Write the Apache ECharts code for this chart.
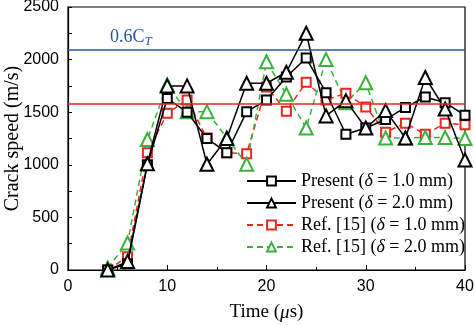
<!DOCTYPE html>
<html>
<head>
<meta charset="utf-8">
<script src="https://cdn.jsdelivr.net/npm/echarts@6/dist/echarts.min.js"></script>
<style>html,body{margin:0;padding:0;background:#fff}#c{width:474px;height:326px}</style>
</head>
<body>
<div id="c"></div>
<script>
const times = [4,6,8,10,12,14,16,18,20,22,24,26,28,30,32,34,36,38,40];
const present1 = [0,60,1000,1630,1500,1250,1115,1505,1615,1835,2015,1685,1290,1350,1430,1545,1645,1590,1470];
const present2 = [0,80,1010,1750,1750,1005,1250,1775,1775,1880,2250,1465,1610,1350,1515,1255,1830,1530,1045];
const ref1 = [0,125,1115,1490,1616,1255,1115,1105,1740,1510,1785,1616,1680,1550,1310,1395,1290,1395,1380];
const ref2 = [20,257,1240,1760,1505,1505,1255,1005,1980,1670,1350,2000,1590,1780,1255,1255,1260,1260,1250];
const ctLine = 2090;   // 0.6 C_T
const redLine = 1580;
const seriesNames = ['Present (δ = 1.0 mm)','Present (δ = 2.0 mm)','Ref. [15] (δ = 1.0 mm)','Ref. [15] (δ = 2.0 mm)'];
const xTicks = [0,10,20,30,40];
const yTicks = [0,500,1000,1500,2000,2500];

const pair = arr => times.map((t,i)=>[t, arr[i]]);
const serif = 'Liberation Serif';

function mk(name, data, color, symbol, size, dashed, z){
  return {
    name, type:'line', data: pair(data), symbol, symbolSize: size,
    showAllSymbol: true, z,
    lineStyle:{color, width:1.5, type: dashed ? [6,4] : 'solid'},
    itemStyle:{color, borderColor: color, borderWidth:1.2}
  };
}

const chart = echarts.init(document.getElementById('c'));
chart.setOption({
  animation:false,
  backgroundColor:'#fff',
  grid:{left:68, right:9, top:7, bottom:56, containLabel:false, outerBoundsMode:'none',
        show:true, borderColor:'#000', borderWidth:1.2, backgroundColor:'transparent'},
  legend:{
    orient:'vertical', left:241, top:167, itemWidth:49, itemHeight:11, itemGap:4,
    data: seriesNames,
    formatter: n => {
      const m = n.match(/^(.*)\(δ = (.*)\)$/);
      return '{n|' + m[1] + '(}{i|δ}{n| = ' + m[2] + ')}';
    },
    textStyle:{fontFamily:serif, fontSize:18, color:'#000',
      rich:{n:{fontFamily:serif, fontSize:18, color:'#000'}, i:{fontFamily:serif, fontStyle:'italic', fontSize:18, color:'#000'}}}
  },
  xAxis:{
    type:'value', min:xTicks[0], max:xTicks[xTicks.length-1], interval:10,
    name:'Time ({i|μ}s)', nameLocation:'middle', nameGap:33, nameMoveOverlap:false,
    nameTextStyle:{fontFamily:serif, fontSize:19, color:'#000',
      rich:{i:{fontFamily:serif, fontStyle:'italic', fontSize:19, color:'#000'}}},
    axisLine:{show:true, lineStyle:{color:'#000', width:1.2}},
    axisTick:{show:true, inside:true, length:5, lineStyle:{color:'#000'}},
    minorTick:{show:true, splitNumber:2, length:3, lineStyle:{color:'#000'}},
    axisLabel:{fontFamily:'Liberation Sans', fontSize:16, color:'#000', margin:9, formatter: v => String(v)},
    splitLine:{show:false}
  },
  yAxis:{
    type:'value', min:yTicks[0], max:yTicks[yTicks.length-1], interval:500,
    name:'Crack speed (m/s)', nameLocation:'middle', nameGap:45, nameMoveOverlap:false,
    nameTextStyle:{fontFamily:serif, fontSize:20, color:'#000'},
    axisLine:{show:true, lineStyle:{color:'#000', width:1.2}},
    axisTick:{show:true, inside:true, length:4, lineStyle:{color:'#000'}},
    minorTick:{show:true, splitNumber:2, length:4, lineStyle:{color:'#000'}},
    axisLabel:{fontFamily:'Liberation Sans', fontSize:16, color:'#000', margin:9, formatter: v => String(v)},
    splitLine:{show:false}
  },
  series:[
    {
      type:'line', data:[], silent:true,
      markLine:{
        silent:true, symbol:'none', animation:false,
        data:[
          {yAxis: ctLine, lineStyle:{color:'#2a52a8', width:1.5, type:'solid'},
           label:{show:true, position:'insideStartTop', distance:[42,2],
             formatter:'{a|0.6C}{s|T}',
             rich:{a:{fontFamily:serif, fontSize:18, color:'#2a52a8'},
                   s:{fontFamily:serif, fontStyle:'italic', fontSize:13, color:'#2a52a8', padding:[9,0,0,0]}}}},
          {yAxis: redLine, lineStyle:{color:'#e8271f', width:1.5, type:'solid'}, label:{show:false}}
        ]
      }
    },
    mk(seriesNames[2], ref1, '#e8271f', 'emptyRect', 9, true, 3),
    mk(seriesNames[3], ref2, '#3bb13b', 'emptyTriangle', 13, true, 3),
    mk(seriesNames[0], present1, '#000', 'emptyRect', 9, false, 4),
    mk(seriesNames[1], present2, '#000', 'emptyTriangle', 13, false, 4)
  ]
});
</script>
</body>
</html>
